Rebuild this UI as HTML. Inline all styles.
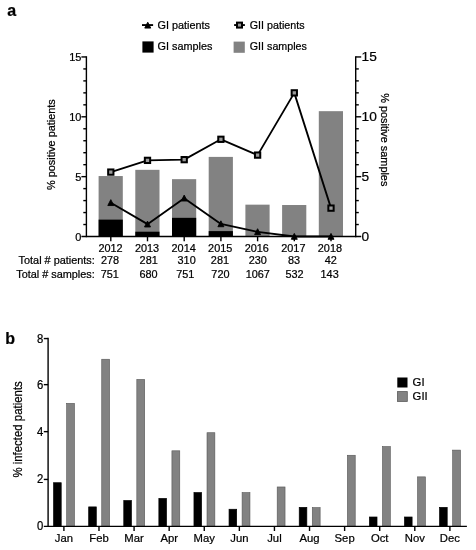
<!DOCTYPE html>
<html><head><meta charset="utf-8"><title>Figure</title>
<style>html,body{margin:0;padding:0;background:#fff}svg{display:block}text{font-family:"Liberation Sans",Arial,sans-serif;fill:#000;stroke:#000;stroke-width:0.22px}svg{filter:blur(0.45px)}</style></head><body>
<svg width="476" height="550" viewBox="0 0 476 550">
<rect width="476" height="550" fill="#fff"/>
<text x="7.2" y="15.8" font-size="16" font-weight="bold">a</text>
<rect x="98.60" y="176.05" width="24.2" height="60.45" fill="#828282"/>
<rect x="98.60" y="219.62" width="24.2" height="16.88" fill="#000"/>
<rect x="135.30" y="169.83" width="24.2" height="66.67" fill="#828282"/>
<rect x="135.30" y="231.71" width="24.2" height="4.79" fill="#000"/>
<rect x="172.00" y="179.16" width="24.2" height="57.34" fill="#828282"/>
<rect x="172.00" y="217.83" width="24.2" height="18.67" fill="#000"/>
<rect x="208.70" y="156.90" width="24.2" height="79.60" fill="#828282"/>
<rect x="208.70" y="231.11" width="24.2" height="5.39" fill="#000"/>
<rect x="245.40" y="204.66" width="24.2" height="31.84" fill="#828282"/>
<rect x="282.10" y="205.02" width="24.2" height="31.48" fill="#828282"/>
<rect x="318.80" y="111.17" width="24.2" height="125.33" fill="#828282"/>
<g stroke="#000" stroke-width="1.4" fill="none">
<path d="M86.4 56.25V237.20"/>
<path d="M355.7 56.25V237.20"/>
<path d="M81.40 236.5H361.20"/>
<path d="M83.30 224.53H86.4"/>
<path d="M355.7 224.53H358.80"/>
<path d="M83.30 212.56H86.4"/>
<path d="M355.7 212.56H358.80"/>
<path d="M83.30 200.59H86.4"/>
<path d="M355.7 200.59H358.80"/>
<path d="M83.30 188.62H86.4"/>
<path d="M355.7 188.62H358.80"/>
<path d="M81.40 176.65H86.4"/>
<path d="M355.7 176.65H361.20"/>
<path d="M83.30 164.68H86.4"/>
<path d="M355.7 164.68H358.80"/>
<path d="M83.30 152.71H86.4"/>
<path d="M355.7 152.71H358.80"/>
<path d="M83.30 140.74H86.4"/>
<path d="M355.7 140.74H358.80"/>
<path d="M83.30 128.77H86.4"/>
<path d="M355.7 128.77H358.80"/>
<path d="M81.40 116.80H86.4"/>
<path d="M355.7 116.80H361.20"/>
<path d="M83.30 104.83H86.4"/>
<path d="M355.7 104.83H358.80"/>
<path d="M83.30 92.86H86.4"/>
<path d="M355.7 92.86H358.80"/>
<path d="M83.30 80.89H86.4"/>
<path d="M355.7 80.89H358.80"/>
<path d="M83.30 68.92H86.4"/>
<path d="M355.7 68.92H358.80"/>
<path d="M81.40 56.95H86.4"/>
<path d="M355.7 56.95H361.20"/>
<path d="M110.80 236.5V241.30"/>
<path d="M147.50 236.5V241.30"/>
<path d="M184.20 236.5V241.30"/>
<path d="M220.90 236.5V241.30"/>
<path d="M257.60 236.5V241.30"/>
<path d="M294.30 236.5V241.30"/>
<path d="M331.00 236.5V241.30"/>
</g>
<polyline points="110.80,172.10 147.50,160.37 184.20,159.65 220.90,139.30 257.60,155.10 294.30,92.86 331.00,208.13" fill="none" stroke="#000" stroke-width="1.85" stroke-linejoin="round"/>
<polyline points="110.80,202.74 147.50,224.17 184.20,198.20 220.90,223.93 257.60,231.83 294.30,236.50 331.00,236.50" fill="none" stroke="#000" stroke-width="1.85" stroke-linejoin="round"/>
<rect x="108.15" y="169.45" width="5.3" height="5.3" fill="#9a9a9a" stroke="#000" stroke-width="2"/>
<rect x="144.85" y="157.72" width="5.3" height="5.3" fill="#9a9a9a" stroke="#000" stroke-width="2"/>
<rect x="181.55" y="157.00" width="5.3" height="5.3" fill="#9a9a9a" stroke="#000" stroke-width="2"/>
<rect x="218.25" y="136.65" width="5.3" height="5.3" fill="#9a9a9a" stroke="#000" stroke-width="2"/>
<rect x="254.95" y="152.45" width="5.3" height="5.3" fill="#9a9a9a" stroke="#000" stroke-width="2"/>
<rect x="291.65" y="90.21" width="5.3" height="5.3" fill="#9a9a9a" stroke="#000" stroke-width="2"/>
<rect x="328.35" y="205.48" width="5.3" height="5.3" fill="#9a9a9a" stroke="#000" stroke-width="2"/>
<path d="M110.80 199.64L113.80 205.54H107.80Z" fill="#000" stroke="#000" stroke-width="0.9" stroke-linejoin="round"/>
<path d="M147.50 221.07L150.50 226.97H144.50Z" fill="#000" stroke="#000" stroke-width="0.9" stroke-linejoin="round"/>
<path d="M184.20 195.10L187.20 201.00H181.20Z" fill="#000" stroke="#000" stroke-width="0.9" stroke-linejoin="round"/>
<path d="M220.90 220.83L223.90 226.73H217.90Z" fill="#000" stroke="#000" stroke-width="0.9" stroke-linejoin="round"/>
<path d="M257.60 228.73L260.60 234.63H254.60Z" fill="#000" stroke="#000" stroke-width="0.9" stroke-linejoin="round"/>
<path d="M294.30 233.40L297.30 239.30H291.30Z" fill="#000" stroke="#000" stroke-width="0.9" stroke-linejoin="round"/>
<path d="M331.00 233.40L334.00 239.30H328.00Z" fill="#000" stroke="#000" stroke-width="0.9" stroke-linejoin="round"/>
<text transform="translate(81.40 240.50) scale(1 1.045)" font-size="11" text-anchor="end">0</text>
<text transform="translate(361.60 241.00) scale(1 1.0)" font-size="13.7">0</text>
<text transform="translate(81.40 180.65) scale(1 1.045)" font-size="11" text-anchor="end">5</text>
<text transform="translate(361.60 181.15) scale(1 1.0)" font-size="13.7">5</text>
<text transform="translate(81.40 120.80) scale(1 1.045)" font-size="11" text-anchor="end">10</text>
<text transform="translate(361.60 121.30) scale(1 1.0)" font-size="13.7">10</text>
<text transform="translate(81.40 60.95) scale(1 1.045)" font-size="11" text-anchor="end">15</text>
<text transform="translate(361.60 61.45) scale(1 1.0)" font-size="13.7">15</text>
<text transform="translate(110.50 251.60) scale(1 1.045)" font-size="10.9" text-anchor="middle">2012</text>
<text transform="translate(110.10 264.30) scale(1 1.045)" font-size="10.9" text-anchor="middle">278</text>
<text transform="translate(109.80 277.80) scale(1 1.045)" font-size="10.9" text-anchor="middle">751</text>
<text transform="translate(147.07 251.60) scale(1 1.045)" font-size="10.9" text-anchor="middle">2013</text>
<text transform="translate(148.67 264.30) scale(1 1.045)" font-size="10.9" text-anchor="middle">281</text>
<text transform="translate(148.47 277.80) scale(1 1.045)" font-size="10.9" text-anchor="middle">680</text>
<text transform="translate(183.64 251.60) scale(1 1.045)" font-size="10.9" text-anchor="middle">2014</text>
<text transform="translate(186.64 264.30) scale(1 1.045)" font-size="10.9" text-anchor="middle">310</text>
<text transform="translate(185.24 277.80) scale(1 1.045)" font-size="10.9" text-anchor="middle">751</text>
<text transform="translate(220.21 251.60) scale(1 1.045)" font-size="10.9" text-anchor="middle">2015</text>
<text transform="translate(219.91 264.30) scale(1 1.045)" font-size="10.9" text-anchor="middle">281</text>
<text transform="translate(220.41 277.80) scale(1 1.045)" font-size="10.9" text-anchor="middle">720</text>
<text transform="translate(256.78 251.60) scale(1 1.045)" font-size="10.9" text-anchor="middle">2016</text>
<text transform="translate(257.78 264.30) scale(1 1.045)" font-size="10.9" text-anchor="middle">230</text>
<text transform="translate(257.78 277.80) scale(1 1.045)" font-size="10.9" text-anchor="middle">1067</text>
<text transform="translate(293.35 251.60) scale(1 1.045)" font-size="10.9" text-anchor="middle">2017</text>
<text transform="translate(293.95 264.30) scale(1 1.045)" font-size="10.9" text-anchor="middle">83</text>
<text transform="translate(294.55 277.80) scale(1 1.045)" font-size="10.9" text-anchor="middle">532</text>
<text transform="translate(329.92 251.60) scale(1 1.045)" font-size="10.9" text-anchor="middle">2018</text>
<text transform="translate(330.82 264.30) scale(1 1.045)" font-size="10.9" text-anchor="middle">42</text>
<text transform="translate(329.62 277.80) scale(1 1.045)" font-size="10.9" text-anchor="middle">143</text>
<text transform="translate(94.80 264.30) scale(1 1.045)" font-size="10.9" text-anchor="end">Total # patients:</text>
<text transform="translate(94.80 277.80) scale(1 1.045)" font-size="10.9" text-anchor="end">Total # samples:</text>
<text transform="translate(54.70 144.60) rotate(-90) scale(1 1.045)" font-size="10.9" text-anchor="middle">% positive patients</text>
<text transform="translate(380.80 139.80) rotate(90) scale(1 1.045)" font-size="10.9" text-anchor="middle">% positive samples</text>
<path d="M142 25.05H153.1" stroke="#000" stroke-width="1.85"/>
<path d="M147.75 22.20L150.75 28.10H144.75Z" fill="#000" stroke="#000" stroke-width="0.9" stroke-linejoin="round"/>
<text transform="translate(157.60 29.00) scale(1 1.045)" font-size="10.85">GI patients</text>
<rect x="142.4" y="41.4" width="11.2" height="11.2" fill="#000"/>
<text transform="translate(157.60 49.90) scale(1 1.045)" font-size="10.85">GI samples</text>
<path d="M234.1 25.05H244.9" stroke="#000" stroke-width="1.85"/>
<rect x="237.00" y="22.60" width="5.0" height="5.0" fill="#9a9a9a" stroke="#000" stroke-width="2"/>
<text transform="translate(249.80 29.00) scale(1 1.045)" font-size="10.7">GII patients</text>
<rect x="233.6" y="41.6" width="11.2" height="11.2" fill="#828282"/>
<text transform="translate(249.80 49.90) scale(1 1.045)" font-size="10.7">GII samples</text>
<text x="5.3" y="344.2" font-size="16" font-weight="bold">b</text>
<rect x="53.60" y="482.73" width="7.6" height="43.67" fill="#000" stroke="#000" stroke-width="0.7"/>
<rect x="66.65" y="403.38" width="7.85" height="123.02" fill="#828282" stroke="#555" stroke-width="0.6"/>
<rect x="88.69" y="506.91" width="7.6" height="19.49" fill="#000" stroke="#000" stroke-width="0.7"/>
<rect x="101.74" y="359.24" width="7.85" height="167.16" fill="#828282" stroke="#555" stroke-width="0.6"/>
<rect x="123.78" y="500.57" width="7.6" height="25.83" fill="#000" stroke="#000" stroke-width="0.7"/>
<rect x="136.83" y="379.43" width="7.85" height="146.97" fill="#828282" stroke="#555" stroke-width="0.6"/>
<rect x="158.87" y="498.46" width="7.6" height="27.94" fill="#000" stroke="#000" stroke-width="0.7"/>
<rect x="171.92" y="450.81" width="7.85" height="75.59" fill="#828282" stroke="#555" stroke-width="0.6"/>
<rect x="193.96" y="492.59" width="7.6" height="33.81" fill="#000" stroke="#000" stroke-width="0.7"/>
<rect x="207.01" y="432.73" width="7.85" height="93.67" fill="#828282" stroke="#555" stroke-width="0.6"/>
<rect x="229.05" y="509.26" width="7.6" height="17.14" fill="#000" stroke="#000" stroke-width="0.7"/>
<rect x="242.10" y="492.60" width="7.85" height="33.80" fill="#828282" stroke="#555" stroke-width="0.6"/>
<rect x="277.19" y="486.97" width="7.85" height="39.43" fill="#828282" stroke="#555" stroke-width="0.6"/>
<rect x="299.23" y="507.38" width="7.6" height="19.02" fill="#000" stroke="#000" stroke-width="0.7"/>
<rect x="312.28" y="507.63" width="7.85" height="18.77" fill="#828282" stroke="#555" stroke-width="0.6"/>
<rect x="347.37" y="455.27" width="7.85" height="71.13" fill="#828282" stroke="#555" stroke-width="0.6"/>
<rect x="369.41" y="517.01" width="7.6" height="9.39" fill="#000" stroke="#000" stroke-width="0.7"/>
<rect x="382.46" y="446.58" width="7.85" height="79.82" fill="#828282" stroke="#555" stroke-width="0.6"/>
<rect x="404.50" y="517.01" width="7.6" height="9.39" fill="#000" stroke="#000" stroke-width="0.7"/>
<rect x="417.55" y="476.87" width="7.85" height="49.53" fill="#828282" stroke="#555" stroke-width="0.6"/>
<rect x="439.59" y="507.38" width="7.6" height="19.02" fill="#000" stroke="#000" stroke-width="0.7"/>
<rect x="452.64" y="450.11" width="7.85" height="76.29" fill="#828282" stroke="#555" stroke-width="0.6"/>
<g stroke="#000" stroke-width="1.4" fill="none">
<path d="M48.1 337.86V527.10"/>
<path d="M43.80 526.4H466.9"/>
<path d="M43.80 479.44H48.1"/>
<path d="M43.80 431.65H48.1"/>
<path d="M43.80 384.65H48.1"/>
<path d="M43.80 338.56H48.1"/>
<path d="M63.90 526.4V531.00"/>
<path d="M98.99 526.4V531.00"/>
<path d="M134.08 526.4V531.00"/>
<path d="M169.17 526.4V531.00"/>
<path d="M204.26 526.4V531.00"/>
<path d="M239.35 526.4V531.00"/>
<path d="M274.44 526.4V531.00"/>
<path d="M309.53 526.4V531.00"/>
<path d="M344.62 526.4V531.00"/>
<path d="M379.71 526.4V531.00"/>
<path d="M414.80 526.4V531.00"/>
<path d="M449.89 526.4V531.00"/>
</g>
<text transform="translate(43.30 530.40) scale(1 1.06)" font-size="11.3" text-anchor="end">0</text>
<text transform="translate(43.30 483.44) scale(1 1.06)" font-size="11.3" text-anchor="end">2</text>
<text transform="translate(43.30 435.65) scale(1 1.06)" font-size="11.3" text-anchor="end">4</text>
<text transform="translate(43.30 388.65) scale(1 1.06)" font-size="11.3" text-anchor="end">6</text>
<text transform="translate(43.30 342.56) scale(1 1.06)" font-size="11.3" text-anchor="end">8</text>
<text transform="translate(63.90 542.20) scale(1 1.045)" font-size="11.3" text-anchor="middle">Jan</text>
<text transform="translate(98.99 542.20) scale(1 1.045)" font-size="11.3" text-anchor="middle">Feb</text>
<text transform="translate(134.08 542.20) scale(1 1.045)" font-size="11.3" text-anchor="middle">Mar</text>
<text transform="translate(169.17 542.20) scale(1 1.045)" font-size="11.3" text-anchor="middle">Apr</text>
<text transform="translate(204.26 542.20) scale(1 1.045)" font-size="11.3" text-anchor="middle">May</text>
<text transform="translate(239.35 542.20) scale(1 1.045)" font-size="11.3" text-anchor="middle">Jun</text>
<text transform="translate(274.44 542.20) scale(1 1.045)" font-size="11.3" text-anchor="middle">Jul</text>
<text transform="translate(309.53 542.20) scale(1 1.045)" font-size="11.3" text-anchor="middle">Aug</text>
<text transform="translate(344.62 542.20) scale(1 1.045)" font-size="11.3" text-anchor="middle">Sep</text>
<text transform="translate(379.71 542.20) scale(1 1.045)" font-size="11.3" text-anchor="middle">Oct</text>
<text transform="translate(414.80 542.20) scale(1 1.045)" font-size="11.3" text-anchor="middle">Nov</text>
<text transform="translate(449.89 542.20) scale(1 1.045)" font-size="11.3" text-anchor="middle">Dec</text>
<text transform="translate(21.50 429.40) rotate(-90) scale(1 1.045)" font-size="11.42" text-anchor="middle">% infected patients</text>
<rect x="397.3" y="377.5" width="10.2" height="10" fill="#000"/>
<rect x="397.5" y="391.6" width="9.8" height="9.8" fill="#828282" stroke="#5a5a5a" stroke-width="0.8"/>
<text transform="translate(412.60 386.30) scale(1 1.045)" font-size="11.3">GI</text>
<text transform="translate(412.60 400.20) scale(1 1.045)" font-size="11.3">GII</text>
</svg></body></html>
